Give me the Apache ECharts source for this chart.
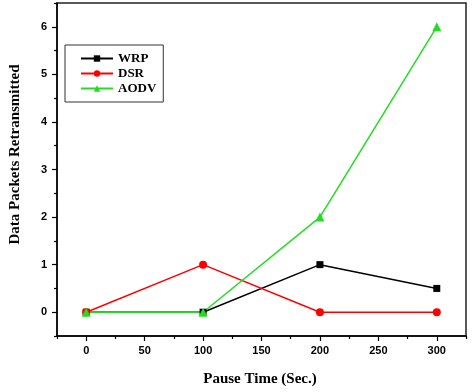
<!DOCTYPE html>
<html><head><meta charset="utf-8">
<script src="https://cdn.jsdelivr.net/npm/echarts@6/dist/echarts.min.js"></script>
<style>html,body{margin:0;padding:0;background:#fff}#c{width:474px;height:392px}</style>
</head><body><div id="c"></div>
<script>
var pauseTimes = [0, 100, 200, 300];
var wrp = [0, 0, 1, 0.5];
var dsr = [0, 1, 0, 0];
var aodv = [0, 0, 2, 6];
var xMajor = [0, 50, 100, 150, 200, 250, 300];
var xMinor = [-25, 25, 75, 125, 175, 225, 275, 325];
var yMajor = [0, 1, 2, 3, 4, 5, 6];
var yMinor = [-0.5, 0.5, 1.5, 2.5, 3.5, 4.5, 5.5, 6.5];

function pairs(xs, ys){ return xs.map(function(x,i){ return [x, ys[i]]; }); }

var tickFont = {fontFamily:'Liberation Sans', fontWeight:'bold', fontSize:11, color:'#000'};
var chart = echarts.init(document.getElementById('c'));
chart.setOption({
  animation:false,
  grid:{left:53, right:8, top:3, bottom:54, show:true, borderColor:'#222', borderWidth:1.5, backgroundColor:'transparent'},
  xAxis:[{
    type:'value', min:-25, max:325,
    name:'Pause Time (Sec.)', nameLocation:'middle', nameGap:36,
    nameTextStyle:{fontFamily:'Liberation Serif', fontWeight:'bold', fontSize:15, color:'#000', padding:[0,3,0,0]},
    axisLine:{show:true, onZero:false, lineStyle:{color:'#000', width:1.5}},
    axisTick:{show:true, length:5, customValues:xMajor, lineStyle:{color:'#000', width:1.2}},
    axisLabel:Object.assign({customValues:xMajor, margin:9}, tickFont),
    splitLine:{show:false}
  },{
    type:'value', min:-25, max:325, position:'bottom',
    axisLine:{show:false, onZero:false},
    axisTick:{show:true, length:3, customValues:xMinor, lineStyle:{color:'#000', width:1.2}},
    axisLabel:{show:false}, splitLine:{show:false}
  }],
  yAxis:[{
    type:'value', min:-0.5, max:6.5,
    name:'Data Packets Retransmitted', nameLocation:'middle', nameGap:34,
    nameTextStyle:{fontFamily:'Liberation Serif', fontWeight:'bold', fontSize:15, color:'#000', padding:[0,0,0,30]},
    axisLine:{show:true, onZero:false, lineStyle:{color:'#000', width:1.5}},
    axisTick:{show:true, length:5, customValues:yMajor, lineStyle:{color:'#000', width:1.2}},
    axisLabel:Object.assign({customValues:yMajor, margin:10}, tickFont),
    splitLine:{show:false}
  },{
    type:'value', min:-0.5, max:6.5, position:'left',
    axisLine:{show:false, onZero:false},
    axisTick:{show:true, length:3, customValues:yMinor, lineStyle:{color:'#000', width:1.2}},
    axisLabel:{show:false}, splitLine:{show:false}
  }],
  legend:{
    left:65, top:45, orient:'vertical',
    borderColor:'#333', borderWidth:1, padding:[7,7,7,15],
    itemWidth:32, itemHeight:8, itemGap:2,
    textStyle:{fontFamily:'Liberation Serif', fontWeight:'bold', fontSize:13, color:'#000'},
    data:['WRP','DSR','AODV']
  },
  series:[
    {name:'WRP', type:'line', data:pairs(pauseTimes, wrp), symbol:'rect', symbolSize:7,
     lineStyle:{color:'#000', width:1.5}, itemStyle:{color:'#000'}},
    {name:'DSR', type:'line', data:pairs(pauseTimes, dsr), symbol:'circle', symbolSize:8,
     lineStyle:{color:'#ff0000', width:1.5}, itemStyle:{color:'#ff0000'}},
    {name:'AODV', type:'line', data:pairs(pauseTimes, aodv), symbol:'triangle', symbolSize:9,
     lineStyle:{color:'#22dd22', width:1.5}, itemStyle:{color:'#22dd22'}}
  ]
});
</script></body></html>
